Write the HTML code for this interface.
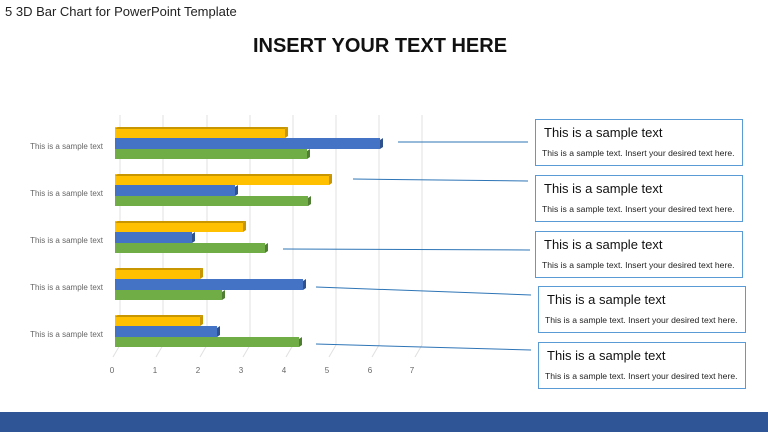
<!DOCTYPE html>
<html><head><meta charset="utf-8"><style>
body{margin:0;width:768px;height:432px;overflow:hidden;background:#fff;font-family:"Liberation Sans",sans-serif;position:relative}
.t{position:absolute;left:5px;top:4px;font-size:13px;color:#222}
.h{position:absolute;left:0;width:760px;top:35px;text-align:center;font-size:20px;font-weight:bold;color:#111}
.box{position:absolute;width:208px;height:47px;border:1.5px solid #5b9bd5;box-sizing:border-box}
.box b{position:absolute;left:8px;top:5px;font-weight:normal;font-size:13px;color:#111}
.box i{position:absolute;left:6px;top:28px;font-style:normal;font-size:8.6px;color:#222;white-space:nowrap}
.foot{position:absolute;left:0;top:412px;width:768px;height:20px;background:#2f5597}
</style></head><body>
<div class="t">5 3D Bar Chart for PowerPoint Template</div>
<div class="h">INSERT YOUR TEXT HERE</div>
<svg width="768" height="432" style="position:absolute;left:0;top:0" font-family="Liberation Sans" font-size="8" fill="#666">
<g stroke="#e0e0e0" stroke-width="1">
<line x1="120" y1="115" x2="120" y2="345"/><line x1="120" y1="345" x2="113" y2="357"/>
<line x1="163" y1="115" x2="163" y2="345"/><line x1="163" y1="345" x2="156" y2="357"/>
<line x1="207" y1="115" x2="207" y2="345"/><line x1="207" y1="345" x2="200" y2="357"/>
<line x1="250" y1="115" x2="250" y2="345"/><line x1="250" y1="345" x2="243" y2="357"/>
<line x1="293" y1="115" x2="293" y2="345"/><line x1="293" y1="345" x2="286" y2="357"/>
<line x1="336" y1="115" x2="336" y2="345"/><line x1="336" y1="345" x2="329" y2="357"/>
<line x1="379" y1="115" x2="379" y2="345"/><line x1="379" y1="345" x2="372" y2="357"/>
<line x1="422" y1="115" x2="422" y2="345"/><line x1="422" y1="345" x2="415" y2="357"/>
</g>
<g text-anchor="middle"><text x="112" y="373">0</text><text x="155" y="373">1</text><text x="198" y="373">2</text><text x="241" y="373">3</text><text x="284" y="373">4</text><text x="327" y="373">5</text><text x="370" y="373">6</text><text x="412" y="373">7</text></g>
<g text-anchor="end"><text x="103" y="149">This is a sample text</text><text x="103" y="196">This is a sample text</text><text x="103" y="243">This is a sample text</text><text x="103" y="290">This is a sample text</text><text x="103" y="337">This is a sample text</text></g>
<g id="bars"></g>
<g stroke="#2e75b6" stroke-width="1">
<line x1="398" y1="142" x2="528" y2="142"/><line x1="353" y1="179" x2="528" y2="181"/><line x1="283" y1="249" x2="530" y2="250"/><line x1="316" y1="287" x2="531" y2="295"/><line x1="316" y1="344" x2="531" y2="350"/>
</g>
</svg>
<div class="box" style="left:535px;top:119px"><b>This is a sample text</b><i>This is a sample text. Insert your desired text here.</i></div>
<div class="box" style="left:535px;top:175px"><b>This is a sample text</b><i>This is a sample text. Insert your desired text here.</i></div>
<div class="box" style="left:535px;top:231px"><b>This is a sample text</b><i>This is a sample text. Insert your desired text here.</i></div>
<div class="box" style="left:538px;top:286px"><b>This is a sample text</b><i>This is a sample text. Insert your desired text here.</i></div>
<div class="box" style="left:538px;top:342px"><b>This is a sample text</b><i>This is a sample text. Insert your desired text here.</i></div>
<div class="foot"></div>
<script>
var ends=[[288,383,310],[332,238,311],[246,195,268],[203,306,225],[203,220,302]];
var cols=[["#ffc000","#c79600"],["#4472c4","#2f528f"],["#70ad47","#507e32"]];
var hs=[[0,11],[11,11],[22,10]];
var s="";
for(var g=0;g<5;g++){var y0=127+47*g;for(var k=0;k<3;k++){var e=ends[g][k],y=y0+hs[k][0],h=hs[k][1];
s+='<rect x="115" y="'+y+'" width="'+(e-118)+'" height="'+h+'" fill="'+cols[k][0]+'"/>';
s+='<polygon points="'+(e-3)+','+(y+h)+' '+(e-3)+','+(y+2)+' '+e+','+y+' '+e+','+(y+h-2)+'" fill="'+cols[k][1]+'"/>';
if(k==0)s+='<polygon points="115,'+(y+2)+' 118,'+y+' '+e+','+y+' '+(e-3)+','+(y+2)+'" fill="'+cols[k][1]+'"/>';}}
document.getElementById("bars").innerHTML=s;
</script>
</body></html>
